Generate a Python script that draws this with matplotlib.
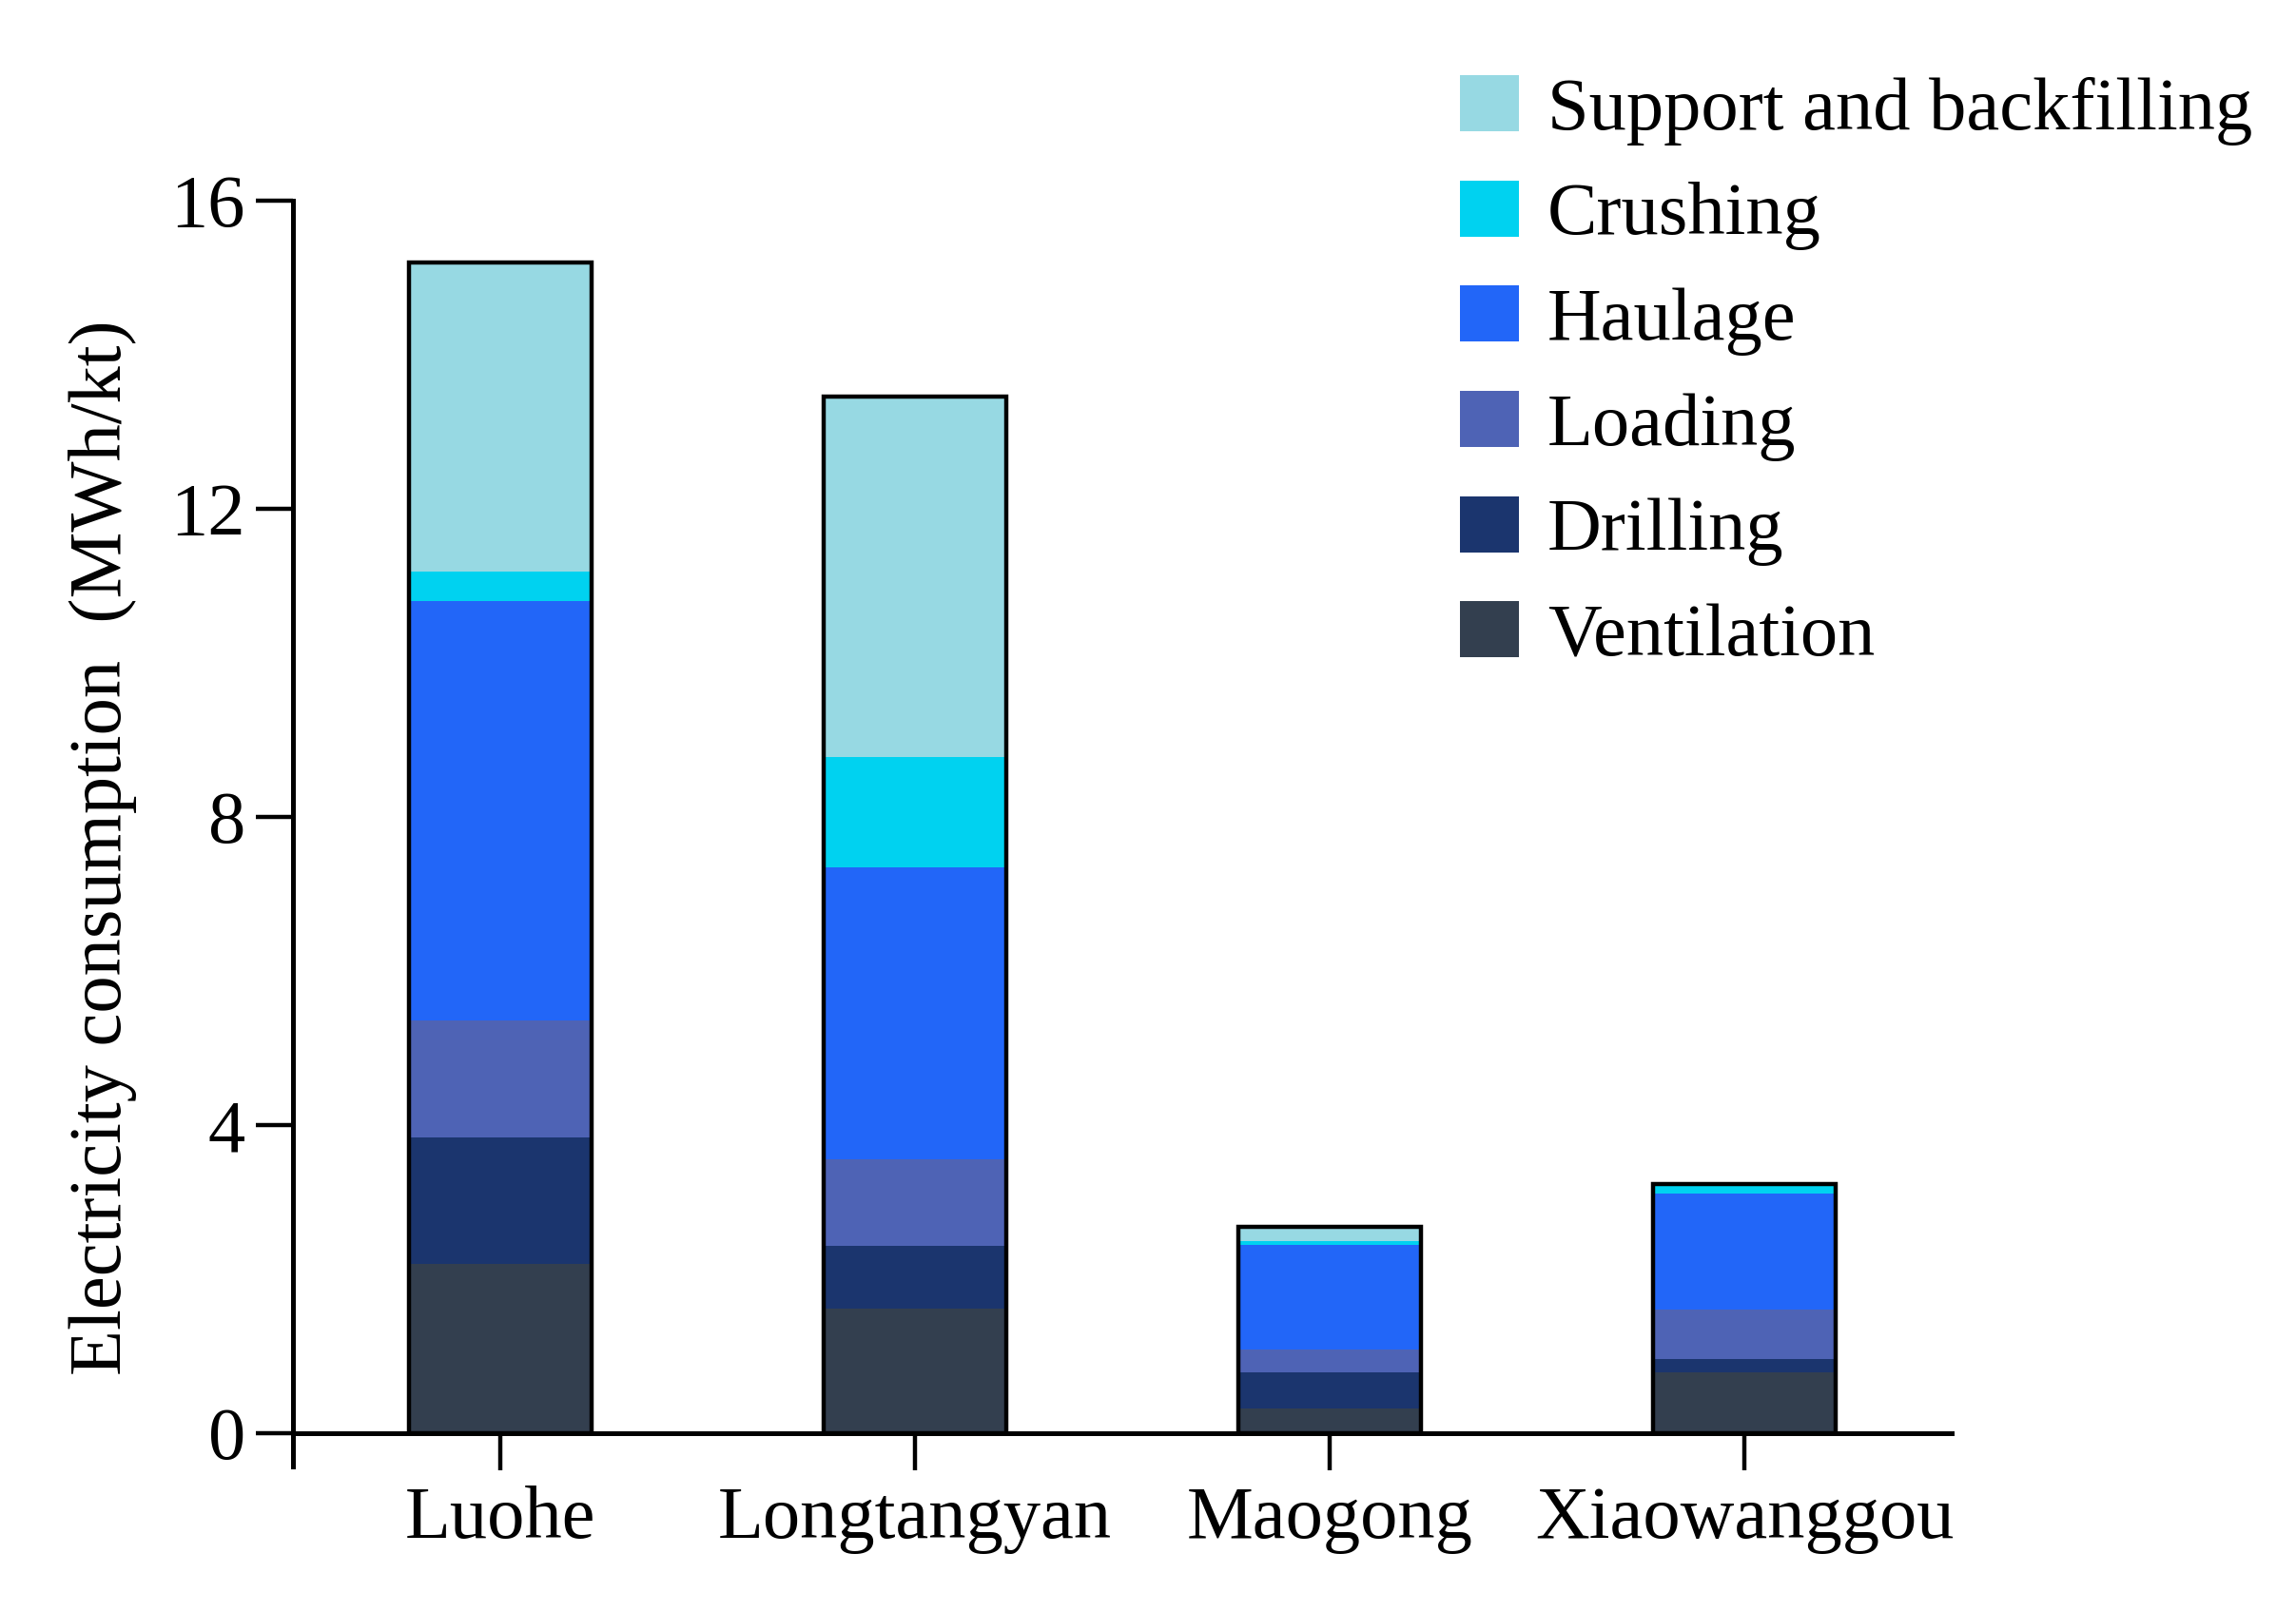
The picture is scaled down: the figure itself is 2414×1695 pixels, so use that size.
import numpy as np
import matplotlib.pyplot as plt
from matplotlib.patches import Patch
from matplotlib.lines import Line2D

plt.rcParams['font.family'] = ['Liberation Serif', 'DejaVu Serif']

# --- Data (MWh/kt) ---
mines = ['Luohe', 'Longtangyan', 'Maogong', 'Xiaowanggou']
ventilation = [2.20, 1.62, 0.32, 0.79]
drilling = [1.64, 0.81, 0.47, 0.17]
loading = [1.52, 1.13, 0.30, 0.65]
haulage = [5.44, 3.78, 1.36, 1.50]
crushing = [0.38, 1.44, 0.05, 0.10]
support = [4.02, 4.68, 0.18, 0.02]

stages = ['Ventilation', 'Drilling', 'Loading', 'Haulage', 'Crushing',
          'Support and backfilling']
colors = ['#333F4F', '#1B356E', '#4E63B5', '#2266F8', '#00D2F0', '#97D9E3']

# --- Plot ---
fig = plt.figure(figsize=(24.14, 16.95), dpi=100)
ax = fig.add_axes([0.1276, 0.1108, 0.7226, 0.7648])

x = np.arange(len(mines))
width = 0.44
bottom = np.zeros(len(mines))
for vals, name, col in zip([ventilation, drilling, loading, haulage, crushing, support],
                           stages, colors):
    ax.bar(x, vals, width, bottom=bottom, color=col, edgecolor='none', zorder=2)
    bottom += np.array(vals)

# outline round the whole stack
ax.bar(x, bottom, width, facecolor='none', edgecolor='black', linewidth=3.2, zorder=3)

ax.set_xlim(-0.5, 3.5)
ax.set_ylim(0, 16)
ax.set_yticks([0, 4, 8, 12, 16])
ax.set_xticks(x)
ax.set_xticklabels(mines)
ax.tick_params(axis='both', labelsize=56.5, length=28, width=3.2, color='black')
ax.tick_params(axis='x', pad=12)
ax.tick_params(axis='y', pad=8)

for s in ['top', 'right']:
    ax.spines[s].set_visible(False)
for s in ['left', 'bottom']:
    ax.spines[s].set_linewidth(3.6)

# y axis runs on a little below zero
ax.add_line(Line2D([0, 0], [0, -0.027], transform=ax.transAxes, color='black',
                   linewidth=3.6, clip_on=False))

ax.set_ylabel('Electricity consumption  (MWh/kt)', fontsize=56.5)
ax.yaxis.set_label_coords(-0.094, 0.475)

handles = [Patch(facecolor=c, edgecolor='none') for c in colors][::-1]
fig.legend(handles, stages[::-1], loc='upper left', bbox_to_anchor=(0.623, 0.972),
           frameon=False, fontsize=56.5, handlelength=0.78, handleheight=0.78,
           handletextpad=0.39, labelspacing=0.47, borderaxespad=0)

fig.savefig('out.png', dpi=100)
